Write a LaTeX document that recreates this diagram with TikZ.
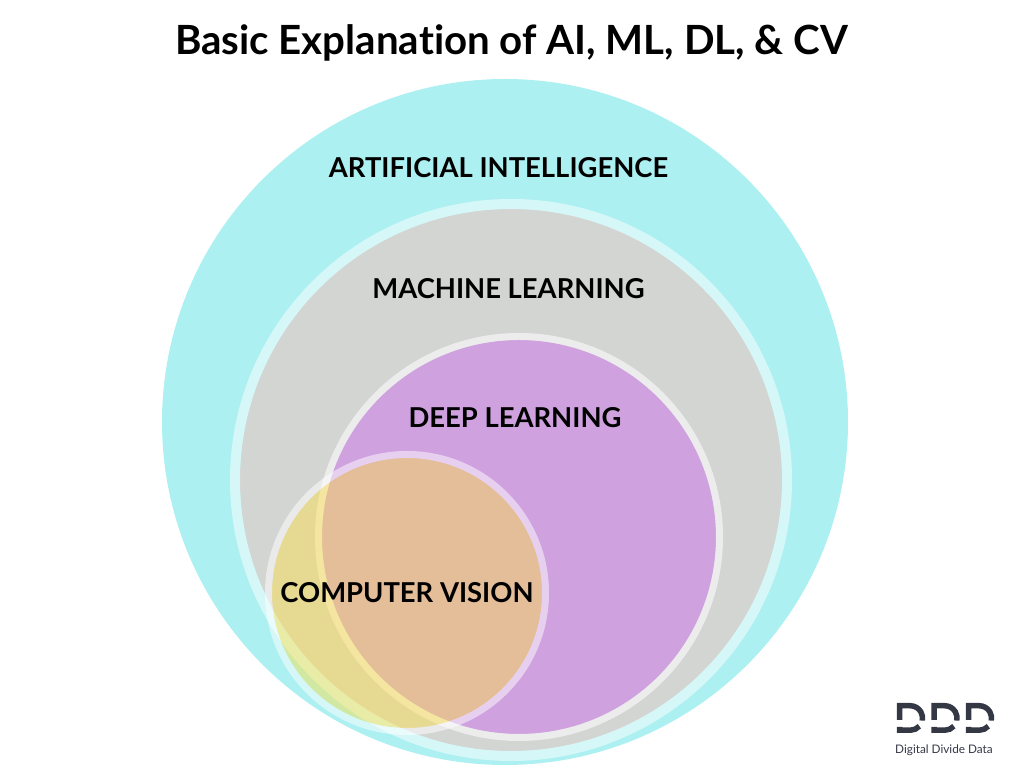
\documentclass[tikz,border=0pt]{standalone}
\usepackage{fontspec}
\setmainfont[Ligatures=NoCommon]{Lato}
\definecolor{aicyan}{HTML}{ADF0F1}
\definecolor{mlgrey}{HTML}{D3D5D3}
\definecolor{dlpurple}{HTML}{CFA2DF}
\definecolor{cvyellow}{HTML}{FFE045}
\definecolor{logoink}{HTML}{343845}
\tikzset{
	ringline/.style={draw=white, draw opacity=0.5},
	setlabel/.style={font=\fontsize{15.6}{18}\bfseries, text=black, inner sep=0pt},
	logostroke/.style={draw=logoink, line width=0.11cm, line cap=butt}
}
\begin{document}
\begin{tikzpicture}
		\useasboundingbox (0, 0) rectangle (20.48, 15.36);
		%%%%% SETS %%%%%
		\fill[aicyan] (10.1, 6.92) circle (6.86);
		
		\fill[mlgrey] (10.22, 5.76) circle (5.42);
		\draw[ringline, line width=0.2cm] (10.22, 5.76) circle (5.52);
		
		\fill[dlpurple] (10.38, 4.62) circle (3.94);
		\draw[ringline, draw opacity=0.55, line width=0.14cm] (10.38, 4.62) circle (4.01);
		
		\fill[cvyellow, fill opacity=0.45] (8.14, 3.5) circle (2.7);
		\draw[ringline, line width=0.14cm] (8.14, 3.5) circle (2.77);
		%%%%% TEXT %%%%%
		\node[font=\fontsize{22.9}{26}\bfseries, inner sep=0pt] (title) at (10.23, 14.5) {Basic Explanation of AI, ML, DL, \& CV};
		\node[setlabel] (ailabel) at (9.97, 12.01) {ARTIFICIAL INTELLIGENCE};
		\node[setlabel] (mllabel) at (10.17, 9.59) {MACHINE LEARNING};
		\node[setlabel] (dllabel) at (10.3, 7.01) {DEEP LEARNING};
		\node[setlabel] (cvlabel) at (8.14, 3.51) {COMPUTER VISION};
		%%%%% LOGO %%%%%
		\foreach \dx in {0, 0.69, 1.38} {
			\draw[logostroke] (17.99+\dx, 0.96) -- (17.99+\dx, 1.245) -- (18.205+\dx, 1.245) arc (90:-12:0.245);
			\draw[logostroke] (17.99+\dx, 0.82) -- (17.99+\dx, 0.755) -- (18.205+\dx, 0.755) arc (270:318:0.245);
		}
		\node[font=\fontsize{6.7}{8}\selectfont, text=logoink, inner sep=0pt] (logotext) at (18.88, 0.36) {Digital Divide Data};
	\end{tikzpicture}
\end{document}
